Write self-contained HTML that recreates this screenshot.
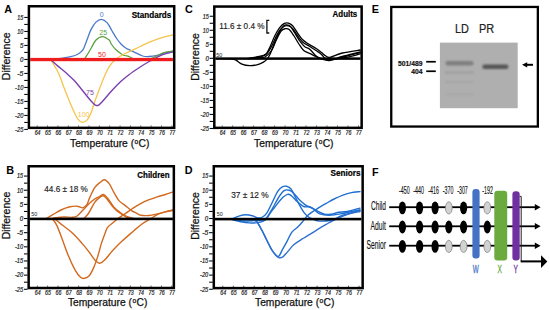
<!DOCTYPE html><html><head><meta charset="utf-8"><style>html,body{margin:0;padding:0;background:#fff;}svg{display:block;}</style></head><body>
<svg width="550" height="310" viewBox="0 0 550 310" font-family='"Liberation Sans", sans-serif'>
<rect width="550" height="310" fill="#fff"/>
<path d="M50.6,59.2 C52.4,59.1 57.7,58.7 61.1,58.3 C64.5,57.9 68.1,57.2 70.8,56.6 C73.5,56.0 75.5,55.3 77.3,54.5 C79.0,53.7 80.2,52.7 81.3,51.6 C82.4,50.5 82.8,50.3 83.9,47.9 C85.0,45.5 86.7,40.5 87.9,37.4 C89.1,34.3 89.8,31.9 91.1,29.4 C92.4,26.8 94.2,23.8 96.0,22.1 C97.8,20.4 99.7,19.3 101.6,19.4 C103.5,19.5 105.5,21.0 107.3,22.9 C109.0,24.8 110.5,28.3 112.1,31.0 C113.7,33.7 115.5,36.8 117.0,39.0 C118.5,41.2 119.7,42.6 121.0,44.0 C122.3,45.4 123.7,46.6 125.0,47.6 C126.3,48.6 127.4,48.9 129.0,49.7 C130.6,50.5 132.4,51.4 134.7,52.4 C137.0,53.4 140.3,55.3 142.7,56.0 C145.1,56.7 146.8,56.6 149.2,56.5 C151.6,56.4 154.6,55.9 157.3,55.3 C160.0,54.7 162.8,53.4 165.3,52.7 C167.9,52.0 171.4,51.4 172.6,51.1" fill="none" stroke="#4a78c8" stroke-width="1.30" stroke-linecap="round" stroke-linejoin="round"/>
<path d="M84.6,59.0 C85.2,58.1 86.8,55.4 88.0,53.5 C89.2,51.6 90.2,49.8 91.5,47.5 C92.8,45.2 94.2,41.8 96.0,40.0 C97.8,38.2 100.2,36.6 102.4,36.6 C104.6,36.6 107.4,38.6 108.9,39.8 C110.4,41.0 110.2,42.4 111.3,44.0 C112.4,45.6 113.8,47.5 115.5,49.2 C117.2,50.9 120.2,53.2 121.8,54.2 C123.4,55.2 123.8,55.1 125.0,55.5 C126.2,55.9 127.7,56.1 129.0,56.6 C130.3,57.1 132.3,58.4 133.0,58.8" fill="none" stroke="#5ca040" stroke-width="1.30" stroke-linecap="round" stroke-linejoin="round"/>
<path d="M150.0,59.0 C150.5,58.8 151.2,58.6 153.0,57.8 C154.8,57.0 158.3,54.9 160.5,54.0 C162.7,53.1 164.0,52.7 166.0,52.2 C168.0,51.7 171.5,51.3 172.6,51.1" fill="none" stroke="#5ca040" stroke-width="1.30" stroke-linecap="round" stroke-linejoin="round"/>
<path d="M50.6,59.6 C51.2,60.5 52.8,62.9 54.2,65.3 C55.6,67.7 57.5,70.8 59.0,74.2 C60.5,77.6 61.7,81.5 63.2,85.5 C64.7,89.5 66.5,94.0 68.1,97.9 C69.7,101.9 71.3,105.7 72.9,109.2 C74.5,112.7 76.1,116.7 77.7,118.9 C79.3,121.1 81.0,122.3 82.6,122.4 C84.2,122.5 85.9,121.5 87.4,119.7 C88.9,117.9 90.2,115.0 91.5,111.6 C92.8,108.2 94.1,103.4 95.5,99.5 C96.9,95.6 98.2,92.3 99.7,88.3 C101.2,84.3 103.1,79.2 104.8,75.5 C106.5,71.8 107.8,68.5 109.7,65.8 C111.6,63.0 113.7,61.0 116.1,59.0 C118.5,57.0 121.1,55.6 124.2,54.0 C127.3,52.4 131.3,50.8 134.7,49.2 C138.1,47.6 141.2,45.9 144.4,44.4 C147.6,42.9 150.8,41.5 154.0,40.3 C157.2,39.1 160.6,38.0 163.7,37.1 C166.8,36.2 171.1,35.4 172.6,35.0" fill="none" stroke="#f5c44c" stroke-width="1.30" stroke-linecap="round" stroke-linejoin="round"/>
<path d="M50.6,59.6 C51.8,60.7 55.3,63.9 57.9,66.1 C60.5,68.3 63.3,70.4 66.0,72.8 C68.7,75.2 71.3,77.4 74.0,80.3 C76.7,83.2 79.7,87.0 82.1,90.0 C84.5,93.0 86.8,95.9 88.5,98.0 C90.2,100.1 91.3,101.3 92.5,102.5 C93.7,103.7 94.8,104.9 95.8,105.3 C96.8,105.7 97.4,105.9 98.7,105.1 C100.0,104.3 101.4,102.6 103.5,100.3 C105.6,98.0 108.6,94.2 111.5,91.0 C114.4,87.8 118.1,84.0 121.0,81.3 C123.9,78.6 126.0,76.9 129.0,74.7 C131.9,72.5 135.2,70.3 138.7,68.0 C142.2,65.7 146.1,63.2 150.0,61.0 C153.9,58.8 158.3,56.3 162.1,54.8 C165.9,53.3 170.8,52.5 172.6,52.1" fill="none" stroke="#7b3fb0" stroke-width="1.40" stroke-linecap="round" stroke-linejoin="round"/>
<rect x="30.2" y="57.9" width="142.7" height="3.3" fill="#ee1c1c"/>
<text x="101.8" y="16.8" font-size="7.00" font-weight="normal" text-anchor="middle" fill="#4a78c8" >0</text>
<text x="103.2" y="35.0" font-size="7.00" font-weight="normal" text-anchor="middle" fill="#5ca040" >25</text>
<text x="102.0" y="57.4" font-size="7.00" font-weight="normal" text-anchor="middle" fill="#ee1c1c" >50</text>
<text x="89.9" y="94.5" font-size="7.00" font-weight="normal" text-anchor="middle" fill="#7b3fb0" >75</text>
<text x="83.6" y="117.2" font-size="7.00" font-weight="normal" text-anchor="middle" fill="#f5c44c" >100</text>
<rect x="28.90" y="6.25" width="145.30" height="121.60" fill="none" stroke="#000" stroke-width="2.50"/>
<rect x="24.25" y="128.90" width="3.6" height="1.05" fill="#000"/>
<text x="23.3" y="131.7" font-size="6.40" font-weight="normal" text-anchor="end" fill="#222" textLength="8.2" lengthAdjust="spacingAndGlyphs" font-style="italic" stroke="#222" stroke-width="0.2">-25</text>
<rect x="24.25" y="121.90" width="3.6" height="1.05" fill="#000"/>
<rect x="24.25" y="114.90" width="3.6" height="1.05" fill="#000"/>
<text x="23.3" y="117.7" font-size="6.40" font-weight="normal" text-anchor="end" fill="#222" textLength="8.2" lengthAdjust="spacingAndGlyphs" font-style="italic" stroke="#222" stroke-width="0.2">-20</text>
<rect x="24.25" y="107.90" width="3.6" height="1.05" fill="#000"/>
<rect x="24.25" y="100.90" width="3.6" height="1.05" fill="#000"/>
<text x="23.3" y="103.7" font-size="6.40" font-weight="normal" text-anchor="end" fill="#222" textLength="8.2" lengthAdjust="spacingAndGlyphs" font-style="italic" stroke="#222" stroke-width="0.2">-15</text>
<rect x="24.25" y="93.90" width="3.6" height="1.05" fill="#000"/>
<rect x="24.25" y="86.90" width="3.6" height="1.05" fill="#000"/>
<text x="23.3" y="89.7" font-size="6.40" font-weight="normal" text-anchor="end" fill="#222" textLength="8.2" lengthAdjust="spacingAndGlyphs" font-style="italic" stroke="#222" stroke-width="0.2">-10</text>
<rect x="24.25" y="79.90" width="3.6" height="1.05" fill="#000"/>
<rect x="24.25" y="72.90" width="3.6" height="1.05" fill="#000"/>
<text x="23.3" y="75.7" font-size="6.40" font-weight="normal" text-anchor="end" fill="#222" textLength="6.0" lengthAdjust="spacingAndGlyphs" font-style="italic" stroke="#222" stroke-width="0.2">-5</text>
<rect x="24.25" y="65.90" width="3.6" height="1.05" fill="#000"/>
<rect x="24.25" y="58.90" width="3.6" height="1.05" fill="#000"/>
<text x="23.3" y="61.7" font-size="6.40" font-weight="normal" text-anchor="end" fill="#222" textLength="3.4" lengthAdjust="spacingAndGlyphs" font-style="italic" stroke="#222" stroke-width="0.2">0</text>
<rect x="24.25" y="51.90" width="3.6" height="1.05" fill="#000"/>
<rect x="24.25" y="44.90" width="3.6" height="1.05" fill="#000"/>
<text x="23.3" y="47.7" font-size="6.40" font-weight="normal" text-anchor="end" fill="#222" textLength="3.4" lengthAdjust="spacingAndGlyphs" font-style="italic" stroke="#222" stroke-width="0.2">5</text>
<rect x="24.25" y="37.90" width="3.6" height="1.05" fill="#000"/>
<rect x="24.25" y="30.90" width="3.6" height="1.05" fill="#000"/>
<text x="23.3" y="33.7" font-size="6.40" font-weight="normal" text-anchor="end" fill="#222" textLength="6.0" lengthAdjust="spacingAndGlyphs" font-style="italic" stroke="#222" stroke-width="0.2">10</text>
<rect x="24.25" y="23.90" width="3.6" height="1.05" fill="#000"/>
<rect x="24.25" y="16.90" width="3.6" height="1.05" fill="#000"/>
<text x="23.3" y="19.7" font-size="6.40" font-weight="normal" text-anchor="end" fill="#222" textLength="6.0" lengthAdjust="spacingAndGlyphs" font-style="italic" stroke="#222" stroke-width="0.2">15</text>
<rect x="36.75" y="125.50" width="0.9" height="1.2" fill="#333"/>
<text x="37.6" y="134.8" font-size="6.40" font-weight="normal" text-anchor="middle" fill="#222" textLength="5.8" lengthAdjust="spacingAndGlyphs" font-style="italic" stroke="#222" stroke-width="0.2">64</text>
<rect x="47.11" y="125.50" width="0.9" height="1.2" fill="#333"/>
<text x="48.0" y="134.8" font-size="6.40" font-weight="normal" text-anchor="middle" fill="#222" textLength="5.8" lengthAdjust="spacingAndGlyphs" font-style="italic" stroke="#222" stroke-width="0.2">65</text>
<rect x="57.47" y="125.50" width="0.9" height="1.2" fill="#333"/>
<text x="58.3" y="134.8" font-size="6.40" font-weight="normal" text-anchor="middle" fill="#222" textLength="5.8" lengthAdjust="spacingAndGlyphs" font-style="italic" stroke="#222" stroke-width="0.2">66</text>
<rect x="67.83" y="125.50" width="0.9" height="1.2" fill="#333"/>
<text x="68.7" y="134.8" font-size="6.40" font-weight="normal" text-anchor="middle" fill="#222" textLength="5.8" lengthAdjust="spacingAndGlyphs" font-style="italic" stroke="#222" stroke-width="0.2">67</text>
<rect x="78.19" y="125.50" width="0.9" height="1.2" fill="#333"/>
<text x="79.0" y="134.8" font-size="6.40" font-weight="normal" text-anchor="middle" fill="#222" textLength="5.8" lengthAdjust="spacingAndGlyphs" font-style="italic" stroke="#222" stroke-width="0.2">68</text>
<rect x="88.55" y="125.50" width="0.9" height="1.2" fill="#333"/>
<text x="89.4" y="134.8" font-size="6.40" font-weight="normal" text-anchor="middle" fill="#222" textLength="5.8" lengthAdjust="spacingAndGlyphs" font-style="italic" stroke="#222" stroke-width="0.2">69</text>
<rect x="98.91" y="125.50" width="0.9" height="1.2" fill="#333"/>
<text x="99.8" y="134.8" font-size="6.40" font-weight="normal" text-anchor="middle" fill="#222" textLength="5.8" lengthAdjust="spacingAndGlyphs" font-style="italic" stroke="#222" stroke-width="0.2">70</text>
<rect x="109.27" y="125.50" width="0.9" height="1.2" fill="#333"/>
<text x="110.1" y="134.8" font-size="6.40" font-weight="normal" text-anchor="middle" fill="#222" textLength="5.8" lengthAdjust="spacingAndGlyphs" font-style="italic" stroke="#222" stroke-width="0.2">71</text>
<rect x="119.63" y="125.50" width="0.9" height="1.2" fill="#333"/>
<text x="120.5" y="134.8" font-size="6.40" font-weight="normal" text-anchor="middle" fill="#222" textLength="5.8" lengthAdjust="spacingAndGlyphs" font-style="italic" stroke="#222" stroke-width="0.2">72</text>
<rect x="129.99" y="125.50" width="0.9" height="1.2" fill="#333"/>
<text x="130.8" y="134.8" font-size="6.40" font-weight="normal" text-anchor="middle" fill="#222" textLength="5.8" lengthAdjust="spacingAndGlyphs" font-style="italic" stroke="#222" stroke-width="0.2">73</text>
<rect x="140.35" y="125.50" width="0.9" height="1.2" fill="#333"/>
<text x="141.2" y="134.8" font-size="6.40" font-weight="normal" text-anchor="middle" fill="#222" textLength="5.8" lengthAdjust="spacingAndGlyphs" font-style="italic" stroke="#222" stroke-width="0.2">74</text>
<rect x="150.71" y="125.50" width="0.9" height="1.2" fill="#333"/>
<text x="151.6" y="134.8" font-size="6.40" font-weight="normal" text-anchor="middle" fill="#222" textLength="5.8" lengthAdjust="spacingAndGlyphs" font-style="italic" stroke="#222" stroke-width="0.2">75</text>
<rect x="161.07" y="125.50" width="0.9" height="1.2" fill="#333"/>
<text x="161.9" y="134.8" font-size="6.40" font-weight="normal" text-anchor="middle" fill="#222" textLength="5.8" lengthAdjust="spacingAndGlyphs" font-style="italic" stroke="#222" stroke-width="0.2">76</text>
<rect x="171.43" y="125.50" width="0.9" height="1.2" fill="#333"/>
<text x="172.3" y="134.8" font-size="6.40" font-weight="normal" text-anchor="middle" fill="#222" textLength="5.8" lengthAdjust="spacingAndGlyphs" font-style="italic" stroke="#222" stroke-width="0.2">77</text>
<text x="131.7" y="17.8" font-size="8.50" font-weight="bold" text-anchor="start" fill="#000" textLength="39.6" lengthAdjust="spacingAndGlyphs" stroke="#000" stroke-width="0.2">Standards</text>
<text x="4.3" y="12.7" font-size="10.80" font-weight="bold" text-anchor="start" fill="#000" >A</text>
<text transform="translate(10.4,56.3) rotate(-90)" x="0" y="0" font-size="10.5" text-anchor="middle" fill="#111" stroke="#111" stroke-width="0.25">Difference</text>
<text x="70.0" y="146.5" font-size="10.3" fill="#111" stroke="#111" stroke-width="0.25">Temperature (<tspan font-size="6.6" dx="0.5" dy="-2.9">o</tspan><tspan dx="0.3" dy="2.9">C)</tspan></text>
<path d="M222.0,58.6 C223.6,58.6 229.4,58.5 231.8,58.8 C234.2,59.1 234.6,59.5 236.3,60.4 C238.0,61.3 239.7,63.2 241.9,64.1 C244.2,65.0 247.2,65.6 249.8,65.7 C252.4,65.8 255.4,65.2 257.7,64.6 C260.0,64.0 261.9,63.0 263.4,62.1 C264.9,61.2 265.7,60.6 266.8,59.3 C267.9,58.0 269.2,56.0 270.1,54.2 C271.0,52.4 271.6,50.6 272.4,48.5 C273.2,46.4 273.8,44.5 275.0,41.8 C276.2,39.0 278.1,34.6 279.5,32.0 C280.9,29.4 282.3,27.2 283.5,26.0 C284.7,24.8 285.6,24.7 286.8,24.8 C288.0,24.9 289.2,25.2 290.5,26.5 C291.8,27.8 293.0,30.2 294.5,32.5 C296.0,34.8 297.8,38.2 299.5,40.5 C301.2,42.8 302.8,45.0 304.5,46.5 C306.2,48.0 308.2,47.9 310.0,49.4 C311.8,50.9 313.7,53.8 315.2,55.2 C316.7,56.7 317.2,57.3 319.0,58.1 C320.8,58.9 323.3,59.8 326.0,60.0 C328.7,60.2 331.8,59.8 335.0,59.2 C338.2,58.6 340.8,57.6 345.0,56.5 C349.2,55.4 357.8,53.2 360.3,52.5" fill="none" stroke="#000" stroke-width="1.30" stroke-linecap="round" stroke-linejoin="round"/>
<path d="M247.6,58.6 C249.1,58.3 254.0,57.5 256.6,57.0 C259.2,56.5 261.7,55.9 263.4,55.3 C265.1,54.6 265.7,54.5 266.8,53.1 C267.9,51.7 268.7,49.9 270.0,47.0 C271.3,44.1 273.1,39.2 274.7,36.0 C276.3,32.8 277.9,30.0 279.5,27.9 C281.1,25.8 282.9,24.2 284.4,23.4 C285.9,22.6 287.1,22.8 288.4,23.1 C289.7,23.5 290.9,23.9 292.4,25.5 C293.9,27.1 295.7,30.4 297.3,32.7 C298.9,35.0 300.2,37.3 302.1,39.2 C304.0,41.1 306.1,42.4 308.5,44.0 C310.9,45.6 314.3,47.3 316.5,48.7 C318.7,50.1 320.1,51.4 321.6,52.6 C323.1,53.8 324.1,55.0 325.5,55.8 C326.9,56.6 327.2,57.8 330.0,57.3 C332.8,56.8 337.2,54.2 342.3,53.0 C347.4,51.8 357.3,50.5 360.3,50.0" fill="none" stroke="#000" stroke-width="1.30" stroke-linecap="round" stroke-linejoin="round"/>
<path d="M248.0,58.6 C249.5,58.4 254.4,57.9 257.0,57.5 C259.6,57.1 261.7,56.7 263.4,56.0 C265.1,55.3 265.7,54.9 267.0,53.5 C268.3,52.1 269.6,50.1 271.0,47.5 C272.4,44.9 274.0,40.9 275.5,38.0 C277.0,35.1 278.4,32.0 280.0,30.0 C281.6,28.0 283.3,26.7 284.8,26.0 C286.3,25.3 287.4,25.5 288.8,26.0 C290.2,26.5 291.6,27.4 293.0,29.0 C294.4,30.6 295.9,33.3 297.5,35.5 C299.1,37.7 300.6,40.2 302.5,42.0 C304.4,43.8 306.8,44.6 309.0,46.0 C311.2,47.4 314.0,49.2 316.0,50.5 C318.0,51.8 319.2,52.4 321.0,54.0 C322.8,55.6 325.0,59.2 326.8,60.2 C328.6,61.2 329.4,60.5 332.0,59.9 C334.6,59.3 337.6,57.8 342.3,56.5 C347.0,55.2 357.3,52.7 360.3,51.9" fill="none" stroke="#000" stroke-width="1.30" stroke-linecap="round" stroke-linejoin="round"/>
<path d="M250.0,58.6 C251.3,58.5 255.5,58.1 258.0,57.8 C260.5,57.5 262.8,58.2 265.0,57.0 C267.2,55.8 269.6,53.3 271.5,50.5 C273.4,47.7 274.7,43.2 276.3,40.0 C277.9,36.8 279.6,33.0 281.1,31.1 C282.6,29.2 283.9,29.0 285.2,28.7 C286.5,28.4 287.7,28.3 289.2,29.5 C290.7,30.7 292.4,33.6 294.0,36.0 C295.6,38.4 297.3,41.6 298.9,44.0 C300.5,46.4 301.8,48.9 303.7,50.5 C305.6,52.1 308.3,52.8 310.2,53.7 C312.1,54.6 313.4,55.4 315.0,56.1 C316.6,56.8 318.0,57.4 320.0,58.0 C322.0,58.6 322.9,59.5 327.0,59.5 C331.1,59.5 339.2,58.6 344.8,57.7 C350.4,56.8 357.7,54.5 360.3,53.9" fill="none" stroke="#000" stroke-width="1.30" stroke-linecap="round" stroke-linejoin="round"/>
<rect x="215.3" y="57.35" width="145.2" height="2.5" fill="#000"/>
<rect x="214.30" y="6.55" width="147.35" height="121.30" fill="none" stroke="#000" stroke-width="2.50"/>
<rect x="209.65" y="127.93" width="3.6" height="1.05" fill="#000"/>
<text x="208.8" y="130.7" font-size="6.40" font-weight="normal" text-anchor="end" fill="#222" textLength="8.2" lengthAdjust="spacingAndGlyphs" font-style="italic" stroke="#222" stroke-width="0.2">-25</text>
<rect x="209.65" y="120.91" width="3.6" height="1.05" fill="#000"/>
<rect x="209.65" y="113.90" width="3.6" height="1.05" fill="#000"/>
<text x="208.8" y="116.7" font-size="6.40" font-weight="normal" text-anchor="end" fill="#222" textLength="8.2" lengthAdjust="spacingAndGlyphs" font-style="italic" stroke="#222" stroke-width="0.2">-20</text>
<rect x="209.65" y="106.89" width="3.6" height="1.05" fill="#000"/>
<rect x="209.65" y="99.88" width="3.6" height="1.05" fill="#000"/>
<text x="208.8" y="102.7" font-size="6.40" font-weight="normal" text-anchor="end" fill="#222" textLength="8.2" lengthAdjust="spacingAndGlyphs" font-style="italic" stroke="#222" stroke-width="0.2">-15</text>
<rect x="209.65" y="92.86" width="3.6" height="1.05" fill="#000"/>
<rect x="209.65" y="85.85" width="3.6" height="1.05" fill="#000"/>
<text x="208.8" y="88.6" font-size="6.40" font-weight="normal" text-anchor="end" fill="#222" textLength="8.2" lengthAdjust="spacingAndGlyphs" font-style="italic" stroke="#222" stroke-width="0.2">-10</text>
<rect x="209.65" y="78.84" width="3.6" height="1.05" fill="#000"/>
<rect x="209.65" y="71.83" width="3.6" height="1.05" fill="#000"/>
<text x="208.8" y="74.6" font-size="6.40" font-weight="normal" text-anchor="end" fill="#222" textLength="6.0" lengthAdjust="spacingAndGlyphs" font-style="italic" stroke="#222" stroke-width="0.2">-5</text>
<rect x="209.65" y="64.81" width="3.6" height="1.05" fill="#000"/>
<rect x="209.65" y="57.80" width="3.6" height="1.05" fill="#000"/>
<text x="208.8" y="60.6" font-size="6.40" font-weight="normal" text-anchor="end" fill="#222" textLength="3.4" lengthAdjust="spacingAndGlyphs" font-style="italic" stroke="#222" stroke-width="0.2">0</text>
<rect x="209.65" y="50.79" width="3.6" height="1.05" fill="#000"/>
<rect x="209.65" y="43.77" width="3.6" height="1.05" fill="#000"/>
<text x="208.8" y="46.6" font-size="6.40" font-weight="normal" text-anchor="end" fill="#222" textLength="3.4" lengthAdjust="spacingAndGlyphs" font-style="italic" stroke="#222" stroke-width="0.2">5</text>
<rect x="209.65" y="36.76" width="3.6" height="1.05" fill="#000"/>
<rect x="209.65" y="29.75" width="3.6" height="1.05" fill="#000"/>
<text x="208.8" y="32.5" font-size="6.40" font-weight="normal" text-anchor="end" fill="#222" textLength="6.0" lengthAdjust="spacingAndGlyphs" font-style="italic" stroke="#222" stroke-width="0.2">10</text>
<rect x="209.65" y="22.74" width="3.6" height="1.05" fill="#000"/>
<rect x="209.65" y="15.72" width="3.6" height="1.05" fill="#000"/>
<text x="208.8" y="18.5" font-size="6.40" font-weight="normal" text-anchor="end" fill="#222" textLength="6.0" lengthAdjust="spacingAndGlyphs" font-style="italic" stroke="#222" stroke-width="0.2">15</text>
<rect x="221.75" y="125.50" width="0.9" height="1.2" fill="#333"/>
<text x="222.6" y="134.8" font-size="6.40" font-weight="normal" text-anchor="middle" fill="#222" textLength="5.8" lengthAdjust="spacingAndGlyphs" font-style="italic" stroke="#222" stroke-width="0.2">64</text>
<rect x="232.23" y="125.50" width="0.9" height="1.2" fill="#333"/>
<text x="233.1" y="134.8" font-size="6.40" font-weight="normal" text-anchor="middle" fill="#222" textLength="5.8" lengthAdjust="spacingAndGlyphs" font-style="italic" stroke="#222" stroke-width="0.2">65</text>
<rect x="242.71" y="125.50" width="0.9" height="1.2" fill="#333"/>
<text x="243.6" y="134.8" font-size="6.40" font-weight="normal" text-anchor="middle" fill="#222" textLength="5.8" lengthAdjust="spacingAndGlyphs" font-style="italic" stroke="#222" stroke-width="0.2">66</text>
<rect x="253.19" y="125.50" width="0.9" height="1.2" fill="#333"/>
<text x="254.0" y="134.8" font-size="6.40" font-weight="normal" text-anchor="middle" fill="#222" textLength="5.8" lengthAdjust="spacingAndGlyphs" font-style="italic" stroke="#222" stroke-width="0.2">67</text>
<rect x="263.67" y="125.50" width="0.9" height="1.2" fill="#333"/>
<text x="264.5" y="134.8" font-size="6.40" font-weight="normal" text-anchor="middle" fill="#222" textLength="5.8" lengthAdjust="spacingAndGlyphs" font-style="italic" stroke="#222" stroke-width="0.2">68</text>
<rect x="274.15" y="125.50" width="0.9" height="1.2" fill="#333"/>
<text x="275.0" y="134.8" font-size="6.40" font-weight="normal" text-anchor="middle" fill="#222" textLength="5.8" lengthAdjust="spacingAndGlyphs" font-style="italic" stroke="#222" stroke-width="0.2">69</text>
<rect x="284.63" y="125.50" width="0.9" height="1.2" fill="#333"/>
<text x="285.5" y="134.8" font-size="6.40" font-weight="normal" text-anchor="middle" fill="#222" textLength="5.8" lengthAdjust="spacingAndGlyphs" font-style="italic" stroke="#222" stroke-width="0.2">70</text>
<rect x="295.11" y="125.50" width="0.9" height="1.2" fill="#333"/>
<text x="296.0" y="134.8" font-size="6.40" font-weight="normal" text-anchor="middle" fill="#222" textLength="5.8" lengthAdjust="spacingAndGlyphs" font-style="italic" stroke="#222" stroke-width="0.2">71</text>
<rect x="305.59" y="125.50" width="0.9" height="1.2" fill="#333"/>
<text x="306.4" y="134.8" font-size="6.40" font-weight="normal" text-anchor="middle" fill="#222" textLength="5.8" lengthAdjust="spacingAndGlyphs" font-style="italic" stroke="#222" stroke-width="0.2">72</text>
<rect x="316.07" y="125.50" width="0.9" height="1.2" fill="#333"/>
<text x="316.9" y="134.8" font-size="6.40" font-weight="normal" text-anchor="middle" fill="#222" textLength="5.8" lengthAdjust="spacingAndGlyphs" font-style="italic" stroke="#222" stroke-width="0.2">73</text>
<rect x="326.55" y="125.50" width="0.9" height="1.2" fill="#333"/>
<text x="327.4" y="134.8" font-size="6.40" font-weight="normal" text-anchor="middle" fill="#222" textLength="5.8" lengthAdjust="spacingAndGlyphs" font-style="italic" stroke="#222" stroke-width="0.2">74</text>
<rect x="337.03" y="125.50" width="0.9" height="1.2" fill="#333"/>
<text x="337.9" y="134.8" font-size="6.40" font-weight="normal" text-anchor="middle" fill="#222" textLength="5.8" lengthAdjust="spacingAndGlyphs" font-style="italic" stroke="#222" stroke-width="0.2">75</text>
<rect x="347.51" y="125.50" width="0.9" height="1.2" fill="#333"/>
<text x="348.4" y="134.8" font-size="6.40" font-weight="normal" text-anchor="middle" fill="#222" textLength="5.8" lengthAdjust="spacingAndGlyphs" font-style="italic" stroke="#222" stroke-width="0.2">76</text>
<rect x="357.99" y="125.50" width="0.9" height="1.2" fill="#333"/>
<text x="358.8" y="134.8" font-size="6.40" font-weight="normal" text-anchor="middle" fill="#222" textLength="5.8" lengthAdjust="spacingAndGlyphs" font-style="italic" stroke="#222" stroke-width="0.2">77</text>
<text x="332.6" y="16.5" font-size="8.40" font-weight="bold" text-anchor="start" fill="#000" textLength="24.6" lengthAdjust="spacingAndGlyphs" stroke="#000" stroke-width="0.2">Adults</text>
<text x="184.9" y="12.9" font-size="10.80" font-weight="bold" text-anchor="start" fill="#000" >C</text>
<text x="219.2" y="28.5" font-size="8.60" font-weight="normal" text-anchor="start" fill="#222" textLength="45.4" lengthAdjust="spacingAndGlyphs" stroke="#222" stroke-width="0.15">11.6 ± 0.4 %</text>
<path d="M269.3,20.3 H266.9 V33.0 H269.3" fill="none" stroke="#111" stroke-width="1.3"/>
<text x="216.2" y="56.9" font-size="6.00" font-weight="normal" text-anchor="start" fill="#222" textLength="6.0" lengthAdjust="spacingAndGlyphs" >50</text>
<text transform="translate(198.8,57.0) rotate(-90)" x="0" y="0" font-size="10.5" text-anchor="middle" fill="#111" stroke="#111" stroke-width="0.25">Difference</text>
<text x="254.1" y="146.5" font-size="10.3" fill="#111" stroke="#111" stroke-width="0.25">Temperature (<tspan font-size="6.6" dx="0.5" dy="-2.9">o</tspan><tspan dx="0.3" dy="2.9">C)</tspan></text>
<path d="M45.6,218.9 C46.8,218.2 50.3,216.1 52.9,214.6 C55.5,213.1 58.3,211.3 61.0,210.0 C63.7,208.7 66.3,207.6 69.0,207.0 C71.7,206.4 74.8,206.0 77.1,206.2 C79.4,206.3 81.1,208.2 82.7,207.9 C84.3,207.7 85.6,206.4 86.8,204.7 C88.0,202.9 88.5,200.2 89.8,197.4 C91.1,194.6 93.1,190.1 94.7,187.7 C96.3,185.3 97.9,184.2 99.5,182.9 C101.1,181.6 102.8,179.6 104.4,179.7 C106.0,179.8 107.6,181.5 109.2,183.7 C110.8,185.8 112.4,189.8 114.0,192.6 C115.6,195.4 117.0,198.4 118.9,200.6 C120.8,202.8 123.2,203.9 125.3,205.6 C127.4,207.3 129.7,209.3 131.5,210.6 C133.3,211.8 134.7,212.3 136.3,213.1 C137.9,213.9 138.9,214.9 141.1,215.3 C143.2,215.7 146.5,215.7 149.2,215.5 C151.9,215.3 154.6,214.5 157.3,213.9 C160.0,213.3 162.8,212.6 165.3,211.9 C167.9,211.2 171.4,210.2 172.6,209.8" fill="none" stroke="#d2691e" stroke-width="1.40" stroke-linecap="round" stroke-linejoin="round"/>
<path d="M51.3,218.9 C52.1,218.7 54.0,218.1 56.1,217.8 C58.2,217.5 61.5,217.1 64.2,217.0 C66.9,216.9 70.2,217.5 72.3,217.3 C74.4,217.1 75.2,217.3 77.1,216.0 C79.0,214.7 81.4,211.7 83.5,209.5 C85.6,207.3 87.9,204.8 89.8,203.1 C91.7,201.3 93.1,200.1 94.7,199.0 C96.3,197.9 98.0,197.3 99.5,196.6 C101.0,195.8 102.2,194.2 103.5,194.5 C104.8,194.8 105.8,196.1 107.6,198.2 C109.3,200.3 111.8,204.7 114.0,207.1 C116.2,209.5 118.3,211.0 120.5,212.7 C122.7,214.4 124.9,216.4 127.0,217.4 C129.1,218.4 132.0,218.7 133.0,218.9" fill="none" stroke="#d2691e" stroke-width="1.40" stroke-linecap="round" stroke-linejoin="round"/>
<path d="M83.5,218.9 C84.3,218.0 86.5,216.3 88.4,213.5 C90.3,210.7 92.9,204.9 94.7,202.3 C96.5,199.7 98.0,198.8 99.5,197.7 C101.0,196.6 102.2,195.5 103.5,195.8 C104.8,196.2 106.1,198.1 107.6,199.8 C109.1,201.6 110.8,204.4 112.4,206.3 C114.0,208.2 115.2,209.5 117.3,211.1 C119.4,212.7 122.6,214.8 125.3,216.0 C128.0,217.2 131.0,217.9 133.4,218.4 C135.8,218.9 138.9,218.8 140.0,218.9" fill="none" stroke="#d2691e" stroke-width="1.40" stroke-linecap="round" stroke-linejoin="round"/>
<path d="M45.6,218.9 C46.7,218.9 50.2,218.1 52.1,219.2 C54.0,220.3 55.1,222.0 56.9,225.6 C58.7,229.2 60.8,235.4 62.7,240.5 C64.6,245.6 66.5,251.1 68.5,256.0 C70.5,260.9 73.0,266.2 75.0,269.8 C77.0,273.4 79.2,276.1 80.8,277.5 C82.4,278.9 83.1,278.6 84.5,278.3 C85.9,278.0 87.7,277.5 89.2,275.7 C90.7,273.9 92.3,270.7 93.7,267.6 C95.1,264.5 96.3,260.9 97.6,256.9 C98.9,252.9 100.2,247.3 101.4,243.4 C102.6,239.5 103.9,236.3 104.9,233.7 C105.9,231.1 106.1,229.4 107.4,227.6 C108.7,225.8 110.9,224.5 112.7,223.0 C114.5,221.5 116.0,220.0 118.0,218.5 C120.0,217.0 122.5,215.6 125.0,213.9 C127.5,212.2 130.4,209.9 133.1,208.2 C135.8,206.4 138.4,204.8 141.1,203.4 C143.8,202.0 146.5,200.8 149.2,199.7 C151.9,198.6 154.6,197.8 157.3,196.9 C160.0,196.0 162.8,195.3 165.3,194.5 C167.9,193.7 171.4,192.5 172.6,192.1" fill="none" stroke="#d2691e" stroke-width="1.40" stroke-linecap="round" stroke-linejoin="round"/>
<path d="M47.0,218.9 C48.2,218.9 51.9,218.1 54.5,219.2 C57.1,220.3 59.6,223.0 62.6,225.3 C65.6,227.6 69.2,230.0 72.4,233.0 C75.7,236.0 79.2,240.1 82.1,243.4 C85.0,246.7 87.5,250.1 89.8,253.0 C92.0,255.9 93.9,259.1 95.6,260.8 C97.3,262.5 98.2,263.4 99.8,263.2 C101.3,263.0 102.8,261.9 104.9,259.8 C107.1,257.7 109.9,253.5 112.7,250.5 C115.5,247.5 118.6,244.4 121.6,241.6 C124.6,238.8 128.3,235.5 130.5,233.6 C132.7,231.7 132.7,231.7 134.7,230.0 C136.7,228.3 140.0,225.4 142.7,223.5 C145.4,221.6 148.4,220.2 150.8,218.7 C153.2,217.2 154.9,215.8 157.3,214.7 C159.7,213.6 162.8,212.6 165.3,211.9 C167.9,211.2 171.4,210.8 172.6,210.6" fill="none" stroke="#d2691e" stroke-width="1.40" stroke-linecap="round" stroke-linejoin="round"/>
<rect x="29.9" y="217.6" width="143" height="2.6" fill="#000"/>
<rect x="28.65" y="166.25" width="145.20" height="121.75" fill="none" stroke="#000" stroke-width="2.50"/>
<rect x="24.00" y="288.75" width="3.6" height="1.05" fill="#000"/>
<text x="23.1" y="291.6" font-size="6.40" font-weight="normal" text-anchor="end" fill="#222" textLength="8.2" lengthAdjust="spacingAndGlyphs" font-style="italic" stroke="#222" stroke-width="0.2">-25</text>
<rect x="24.00" y="281.68" width="3.6" height="1.05" fill="#000"/>
<rect x="24.00" y="274.60" width="3.6" height="1.05" fill="#000"/>
<text x="23.1" y="277.4" font-size="6.40" font-weight="normal" text-anchor="end" fill="#222" textLength="8.2" lengthAdjust="spacingAndGlyphs" font-style="italic" stroke="#222" stroke-width="0.2">-20</text>
<rect x="24.00" y="267.52" width="3.6" height="1.05" fill="#000"/>
<rect x="24.00" y="260.45" width="3.6" height="1.05" fill="#000"/>
<text x="23.1" y="263.2" font-size="6.40" font-weight="normal" text-anchor="end" fill="#222" textLength="8.2" lengthAdjust="spacingAndGlyphs" font-style="italic" stroke="#222" stroke-width="0.2">-15</text>
<rect x="24.00" y="253.38" width="3.6" height="1.05" fill="#000"/>
<rect x="24.00" y="246.30" width="3.6" height="1.05" fill="#000"/>
<text x="23.1" y="249.1" font-size="6.40" font-weight="normal" text-anchor="end" fill="#222" textLength="8.2" lengthAdjust="spacingAndGlyphs" font-style="italic" stroke="#222" stroke-width="0.2">-10</text>
<rect x="24.00" y="239.22" width="3.6" height="1.05" fill="#000"/>
<rect x="24.00" y="232.15" width="3.6" height="1.05" fill="#000"/>
<text x="23.1" y="235.0" font-size="6.40" font-weight="normal" text-anchor="end" fill="#222" textLength="6.0" lengthAdjust="spacingAndGlyphs" font-style="italic" stroke="#222" stroke-width="0.2">-5</text>
<rect x="24.00" y="225.07" width="3.6" height="1.05" fill="#000"/>
<rect x="24.00" y="218.00" width="3.6" height="1.05" fill="#000"/>
<text x="23.1" y="220.8" font-size="6.40" font-weight="normal" text-anchor="end" fill="#222" textLength="3.4" lengthAdjust="spacingAndGlyphs" font-style="italic" stroke="#222" stroke-width="0.2">0</text>
<rect x="24.00" y="210.93" width="3.6" height="1.05" fill="#000"/>
<rect x="24.00" y="203.85" width="3.6" height="1.05" fill="#000"/>
<text x="23.1" y="206.7" font-size="6.40" font-weight="normal" text-anchor="end" fill="#222" textLength="3.4" lengthAdjust="spacingAndGlyphs" font-style="italic" stroke="#222" stroke-width="0.2">5</text>
<rect x="24.00" y="196.78" width="3.6" height="1.05" fill="#000"/>
<rect x="24.00" y="189.70" width="3.6" height="1.05" fill="#000"/>
<text x="23.1" y="192.5" font-size="6.40" font-weight="normal" text-anchor="end" fill="#222" textLength="6.0" lengthAdjust="spacingAndGlyphs" font-style="italic" stroke="#222" stroke-width="0.2">10</text>
<rect x="24.00" y="182.62" width="3.6" height="1.05" fill="#000"/>
<rect x="24.00" y="175.55" width="3.6" height="1.05" fill="#000"/>
<text x="23.1" y="178.4" font-size="6.40" font-weight="normal" text-anchor="end" fill="#222" textLength="6.0" lengthAdjust="spacingAndGlyphs" font-style="italic" stroke="#222" stroke-width="0.2">15</text>
<rect x="36.85" y="285.65" width="0.9" height="1.2" fill="#333"/>
<text x="37.7" y="295.0" font-size="6.40" font-weight="normal" text-anchor="middle" fill="#222" textLength="5.8" lengthAdjust="spacingAndGlyphs" font-style="italic" stroke="#222" stroke-width="0.2">64</text>
<rect x="47.19" y="285.65" width="0.9" height="1.2" fill="#333"/>
<text x="48.0" y="295.0" font-size="6.40" font-weight="normal" text-anchor="middle" fill="#222" textLength="5.8" lengthAdjust="spacingAndGlyphs" font-style="italic" stroke="#222" stroke-width="0.2">65</text>
<rect x="57.53" y="285.65" width="0.9" height="1.2" fill="#333"/>
<text x="58.4" y="295.0" font-size="6.40" font-weight="normal" text-anchor="middle" fill="#222" textLength="5.8" lengthAdjust="spacingAndGlyphs" font-style="italic" stroke="#222" stroke-width="0.2">66</text>
<rect x="67.87" y="285.65" width="0.9" height="1.2" fill="#333"/>
<text x="68.7" y="295.0" font-size="6.40" font-weight="normal" text-anchor="middle" fill="#222" textLength="5.8" lengthAdjust="spacingAndGlyphs" font-style="italic" stroke="#222" stroke-width="0.2">67</text>
<rect x="78.21" y="285.65" width="0.9" height="1.2" fill="#333"/>
<text x="79.1" y="295.0" font-size="6.40" font-weight="normal" text-anchor="middle" fill="#222" textLength="5.8" lengthAdjust="spacingAndGlyphs" font-style="italic" stroke="#222" stroke-width="0.2">68</text>
<rect x="88.55" y="285.65" width="0.9" height="1.2" fill="#333"/>
<text x="89.4" y="295.0" font-size="6.40" font-weight="normal" text-anchor="middle" fill="#222" textLength="5.8" lengthAdjust="spacingAndGlyphs" font-style="italic" stroke="#222" stroke-width="0.2">69</text>
<rect x="98.89" y="285.65" width="0.9" height="1.2" fill="#333"/>
<text x="99.7" y="295.0" font-size="6.40" font-weight="normal" text-anchor="middle" fill="#222" textLength="5.8" lengthAdjust="spacingAndGlyphs" font-style="italic" stroke="#222" stroke-width="0.2">70</text>
<rect x="109.23" y="285.65" width="0.9" height="1.2" fill="#333"/>
<text x="110.1" y="295.0" font-size="6.40" font-weight="normal" text-anchor="middle" fill="#222" textLength="5.8" lengthAdjust="spacingAndGlyphs" font-style="italic" stroke="#222" stroke-width="0.2">71</text>
<rect x="119.57" y="285.65" width="0.9" height="1.2" fill="#333"/>
<text x="120.4" y="295.0" font-size="6.40" font-weight="normal" text-anchor="middle" fill="#222" textLength="5.8" lengthAdjust="spacingAndGlyphs" font-style="italic" stroke="#222" stroke-width="0.2">72</text>
<rect x="129.91" y="285.65" width="0.9" height="1.2" fill="#333"/>
<text x="130.8" y="295.0" font-size="6.40" font-weight="normal" text-anchor="middle" fill="#222" textLength="5.8" lengthAdjust="spacingAndGlyphs" font-style="italic" stroke="#222" stroke-width="0.2">73</text>
<rect x="140.25" y="285.65" width="0.9" height="1.2" fill="#333"/>
<text x="141.1" y="295.0" font-size="6.40" font-weight="normal" text-anchor="middle" fill="#222" textLength="5.8" lengthAdjust="spacingAndGlyphs" font-style="italic" stroke="#222" stroke-width="0.2">74</text>
<rect x="150.59" y="285.65" width="0.9" height="1.2" fill="#333"/>
<text x="151.4" y="295.0" font-size="6.40" font-weight="normal" text-anchor="middle" fill="#222" textLength="5.8" lengthAdjust="spacingAndGlyphs" font-style="italic" stroke="#222" stroke-width="0.2">75</text>
<rect x="160.93" y="285.65" width="0.9" height="1.2" fill="#333"/>
<text x="161.8" y="295.0" font-size="6.40" font-weight="normal" text-anchor="middle" fill="#222" textLength="5.8" lengthAdjust="spacingAndGlyphs" font-style="italic" stroke="#222" stroke-width="0.2">76</text>
<rect x="171.27" y="285.65" width="0.9" height="1.2" fill="#333"/>
<text x="172.1" y="295.0" font-size="6.40" font-weight="normal" text-anchor="middle" fill="#222" textLength="5.8" lengthAdjust="spacingAndGlyphs" font-style="italic" stroke="#222" stroke-width="0.2">77</text>
<text x="137.3" y="177.5" font-size="8.40" font-weight="bold" text-anchor="start" fill="#000" textLength="32.2" lengthAdjust="spacingAndGlyphs" stroke="#000" stroke-width="0.2">Children</text>
<text x="6.2" y="174.3" font-size="10.80" font-weight="bold" text-anchor="start" fill="#000" >B</text>
<text x="44.3" y="191.8" font-size="8.60" font-weight="normal" text-anchor="start" fill="#222" textLength="43.6" lengthAdjust="spacingAndGlyphs" stroke="#222" stroke-width="0.15">44.6 ± 18 %</text>
<text x="31.3" y="215.8" font-size="6.20" font-weight="normal" text-anchor="start" fill="#222" textLength="6.0" lengthAdjust="spacingAndGlyphs" >50</text>
<text transform="translate(10.3,215.5) rotate(-90)" x="0" y="0" font-size="10.5" text-anchor="middle" fill="#111" stroke="#111" stroke-width="0.25">Difference</text>
<text x="67.9" y="305.6" font-size="10.3" fill="#111" stroke="#111" stroke-width="0.25">Temperature (<tspan font-size="6.6" dx="0.5" dy="-2.9">o</tspan><tspan dx="0.3" dy="2.9">C)</tspan></text>
<path d="M231.0,219.3 C232.4,218.7 237.0,216.6 239.5,215.8 C242.0,215.1 243.8,214.8 246.0,214.8 C248.2,214.8 250.4,215.3 252.4,215.8 C254.4,216.3 256.3,217.8 258.0,218.0 C259.7,218.2 261.0,217.8 262.5,217.0 C264.0,216.2 265.4,215.1 266.9,212.9 C268.4,210.7 269.7,207.6 271.5,204.0 C273.3,200.4 276.0,194.0 277.9,191.1 C279.8,188.2 281.2,187.4 282.7,186.6 C284.2,185.8 285.4,186.0 286.8,186.3 C288.2,186.7 289.5,187.1 290.8,188.7 C292.1,190.3 293.5,193.4 294.8,196.0 C296.1,198.6 297.4,201.3 298.9,204.0 C300.4,206.7 302.1,209.9 303.7,212.1 C305.3,214.3 306.9,215.8 308.5,217.0 C310.1,218.2 311.5,218.7 313.4,219.4 C315.3,220.1 316.8,220.9 319.7,221.1 C322.6,221.2 327.2,221.2 331.0,220.3 C334.8,219.4 337.5,217.1 342.3,215.5 C347.1,213.9 357.1,211.4 360.0,210.6" fill="none" stroke="#1f6fd1" stroke-width="1.40" stroke-linecap="round" stroke-linejoin="round"/>
<path d="M232.0,219.5 C233.5,219.9 238.2,221.2 241.1,221.8 C244.0,222.4 246.5,222.8 249.2,222.9 C251.9,223.0 254.9,222.9 257.3,222.6 C259.7,222.3 261.9,222.1 263.7,221.0 C265.5,219.9 266.4,218.3 268.0,216.0 C269.6,213.7 271.2,210.6 273.1,207.3 C275.0,204.0 277.6,198.8 279.5,196.0 C281.4,193.2 282.8,191.2 284.4,190.3 C286.0,189.4 287.7,189.9 289.2,190.3 C290.7,190.7 291.6,191.2 293.2,192.7 C294.8,194.2 296.9,197.2 298.9,199.2 C300.9,201.2 302.9,203.2 305.3,204.8 C307.7,206.4 311.0,207.4 313.4,208.9 C315.8,210.4 317.0,212.9 319.7,213.9 C322.4,214.9 325.9,215.2 329.4,215.2 C332.9,215.2 335.5,214.8 340.6,213.9 C345.7,213.0 356.8,210.5 360.0,209.8" fill="none" stroke="#1f6fd1" stroke-width="1.40" stroke-linecap="round" stroke-linejoin="round"/>
<path d="M234.0,219.5 C235.7,219.8 240.7,220.8 244.0,221.0 C247.3,221.2 251.0,220.7 254.0,220.5 C257.0,220.3 260.0,220.2 262.0,220.0 C264.0,219.8 264.6,220.7 266.0,219.5 C267.4,218.3 268.8,215.0 270.2,213.0 C271.6,211.0 272.9,209.6 274.7,207.3 C276.5,205.0 279.0,201.3 281.1,199.2 C283.2,197.0 285.9,194.9 287.6,194.4 C289.4,193.9 290.0,194.8 291.6,196.0 C293.2,197.2 295.3,199.8 297.3,201.6 C299.3,203.3 301.6,205.6 303.7,206.5 C305.8,207.4 307.9,206.2 310.0,206.9 C312.1,207.6 314.1,209.4 316.5,210.6 C318.9,211.8 322.1,213.6 324.5,214.2 C326.9,214.8 328.6,214.5 331.0,214.2 C333.4,213.9 336.3,212.8 339.0,212.3 C341.7,211.9 343.6,212.2 347.1,211.5 C350.6,210.8 357.9,208.8 360.0,208.2" fill="none" stroke="#1f6fd1" stroke-width="1.40" stroke-linecap="round" stroke-linejoin="round"/>
<path d="M252.0,219.5 C252.8,219.8 255.0,219.8 256.6,221.5 C258.2,223.2 259.9,226.6 261.5,229.5 C263.1,232.4 264.7,236.0 266.3,239.2 C267.9,242.4 269.5,246.2 271.1,248.9 C272.7,251.6 274.7,254.1 276.0,255.3 C277.3,256.5 277.9,256.9 279.0,256.0 C280.1,255.1 281.0,252.2 282.4,249.7 C283.8,247.2 285.7,243.8 287.3,240.8 C288.9,237.8 290.2,234.3 292.1,231.9 C294.0,229.5 296.6,228.2 298.5,226.3 C300.4,224.4 301.8,222.5 303.4,220.6 C305.0,218.7 305.8,217.1 308.2,215.0 C310.6,212.9 315.1,210.1 318.1,208.2 C321.1,206.3 323.4,204.9 326.1,203.4 C328.8,201.9 331.5,200.3 334.2,199.0 C336.9,197.7 339.6,196.3 342.3,195.3 C345.0,194.3 347.4,193.5 350.3,192.9 C353.2,192.3 358.4,191.8 360.0,191.6" fill="none" stroke="#1f6fd1" stroke-width="1.40" stroke-linecap="round" stroke-linejoin="round"/>
<path d="M253.0,219.5 C253.7,219.9 255.5,220.2 257.0,222.0 C258.5,223.8 260.3,227.4 262.0,230.5 C263.7,233.6 265.3,237.2 267.0,240.5 C268.7,243.8 270.4,247.4 272.0,250.0 C273.6,252.6 275.3,254.7 276.5,256.0 C277.7,257.3 278.2,257.5 279.2,257.7 C280.2,257.9 281.0,258.1 282.4,257.2 C283.8,256.3 285.4,254.2 287.3,252.1 C289.2,250.0 291.3,247.0 293.7,244.8 C296.1,242.7 299.1,240.9 301.8,239.2 C304.5,237.5 307.1,236.1 309.8,234.4 C312.5,232.7 315.4,230.9 318.1,229.2 C320.8,227.5 323.4,225.9 326.1,224.4 C328.8,222.9 331.5,221.3 334.2,220.0 C336.9,218.7 339.4,217.5 342.3,216.3 C345.2,215.2 348.9,213.9 351.9,213.1 C354.8,212.3 358.6,211.8 360.0,211.5" fill="none" stroke="#2f6fd0" stroke-width="1.40" stroke-linecap="round" stroke-linejoin="round"/>
<rect x="214.8" y="217.8" width="146.6" height="2.6" fill="#000"/>
<rect x="213.80" y="166.25" width="148.85" height="121.85" fill="none" stroke="#000" stroke-width="2.50"/>
<rect x="209.15" y="288.75" width="3.6" height="1.05" fill="#000"/>
<text x="208.2" y="291.6" font-size="6.40" font-weight="normal" text-anchor="end" fill="#222" textLength="8.2" lengthAdjust="spacingAndGlyphs" font-style="italic" stroke="#222" stroke-width="0.2">-25</text>
<rect x="209.15" y="281.68" width="3.6" height="1.05" fill="#000"/>
<rect x="209.15" y="274.60" width="3.6" height="1.05" fill="#000"/>
<text x="208.2" y="277.4" font-size="6.40" font-weight="normal" text-anchor="end" fill="#222" textLength="8.2" lengthAdjust="spacingAndGlyphs" font-style="italic" stroke="#222" stroke-width="0.2">-20</text>
<rect x="209.15" y="267.52" width="3.6" height="1.05" fill="#000"/>
<rect x="209.15" y="260.45" width="3.6" height="1.05" fill="#000"/>
<text x="208.2" y="263.2" font-size="6.40" font-weight="normal" text-anchor="end" fill="#222" textLength="8.2" lengthAdjust="spacingAndGlyphs" font-style="italic" stroke="#222" stroke-width="0.2">-15</text>
<rect x="209.15" y="253.38" width="3.6" height="1.05" fill="#000"/>
<rect x="209.15" y="246.30" width="3.6" height="1.05" fill="#000"/>
<text x="208.2" y="249.1" font-size="6.40" font-weight="normal" text-anchor="end" fill="#222" textLength="8.2" lengthAdjust="spacingAndGlyphs" font-style="italic" stroke="#222" stroke-width="0.2">-10</text>
<rect x="209.15" y="239.22" width="3.6" height="1.05" fill="#000"/>
<rect x="209.15" y="232.15" width="3.6" height="1.05" fill="#000"/>
<text x="208.2" y="235.0" font-size="6.40" font-weight="normal" text-anchor="end" fill="#222" textLength="6.0" lengthAdjust="spacingAndGlyphs" font-style="italic" stroke="#222" stroke-width="0.2">-5</text>
<rect x="209.15" y="225.07" width="3.6" height="1.05" fill="#000"/>
<rect x="209.15" y="218.00" width="3.6" height="1.05" fill="#000"/>
<text x="208.2" y="220.8" font-size="6.40" font-weight="normal" text-anchor="end" fill="#222" textLength="3.4" lengthAdjust="spacingAndGlyphs" font-style="italic" stroke="#222" stroke-width="0.2">0</text>
<rect x="209.15" y="210.93" width="3.6" height="1.05" fill="#000"/>
<rect x="209.15" y="203.85" width="3.6" height="1.05" fill="#000"/>
<text x="208.2" y="206.7" font-size="6.40" font-weight="normal" text-anchor="end" fill="#222" textLength="3.4" lengthAdjust="spacingAndGlyphs" font-style="italic" stroke="#222" stroke-width="0.2">5</text>
<rect x="209.15" y="196.78" width="3.6" height="1.05" fill="#000"/>
<rect x="209.15" y="189.70" width="3.6" height="1.05" fill="#000"/>
<text x="208.2" y="192.5" font-size="6.40" font-weight="normal" text-anchor="end" fill="#222" textLength="6.0" lengthAdjust="spacingAndGlyphs" font-style="italic" stroke="#222" stroke-width="0.2">10</text>
<rect x="209.15" y="182.62" width="3.6" height="1.05" fill="#000"/>
<rect x="209.15" y="175.55" width="3.6" height="1.05" fill="#000"/>
<text x="208.2" y="178.4" font-size="6.40" font-weight="normal" text-anchor="end" fill="#222" textLength="6.0" lengthAdjust="spacingAndGlyphs" font-style="italic" stroke="#222" stroke-width="0.2">15</text>
<rect x="222.35" y="285.75" width="0.9" height="1.2" fill="#333"/>
<text x="223.2" y="295.1" font-size="6.40" font-weight="normal" text-anchor="middle" fill="#222" textLength="5.8" lengthAdjust="spacingAndGlyphs" font-style="italic" stroke="#222" stroke-width="0.2">64</text>
<rect x="232.83" y="285.75" width="0.9" height="1.2" fill="#333"/>
<text x="233.7" y="295.1" font-size="6.40" font-weight="normal" text-anchor="middle" fill="#222" textLength="5.8" lengthAdjust="spacingAndGlyphs" font-style="italic" stroke="#222" stroke-width="0.2">65</text>
<rect x="243.31" y="285.75" width="0.9" height="1.2" fill="#333"/>
<text x="244.2" y="295.1" font-size="6.40" font-weight="normal" text-anchor="middle" fill="#222" textLength="5.8" lengthAdjust="spacingAndGlyphs" font-style="italic" stroke="#222" stroke-width="0.2">66</text>
<rect x="253.79" y="285.75" width="0.9" height="1.2" fill="#333"/>
<text x="254.6" y="295.1" font-size="6.40" font-weight="normal" text-anchor="middle" fill="#222" textLength="5.8" lengthAdjust="spacingAndGlyphs" font-style="italic" stroke="#222" stroke-width="0.2">67</text>
<rect x="264.27" y="285.75" width="0.9" height="1.2" fill="#333"/>
<text x="265.1" y="295.1" font-size="6.40" font-weight="normal" text-anchor="middle" fill="#222" textLength="5.8" lengthAdjust="spacingAndGlyphs" font-style="italic" stroke="#222" stroke-width="0.2">68</text>
<rect x="274.75" y="285.75" width="0.9" height="1.2" fill="#333"/>
<text x="275.6" y="295.1" font-size="6.40" font-weight="normal" text-anchor="middle" fill="#222" textLength="5.8" lengthAdjust="spacingAndGlyphs" font-style="italic" stroke="#222" stroke-width="0.2">69</text>
<rect x="285.23" y="285.75" width="0.9" height="1.2" fill="#333"/>
<text x="286.1" y="295.1" font-size="6.40" font-weight="normal" text-anchor="middle" fill="#222" textLength="5.8" lengthAdjust="spacingAndGlyphs" font-style="italic" stroke="#222" stroke-width="0.2">70</text>
<rect x="295.71" y="285.75" width="0.9" height="1.2" fill="#333"/>
<text x="296.6" y="295.1" font-size="6.40" font-weight="normal" text-anchor="middle" fill="#222" textLength="5.8" lengthAdjust="spacingAndGlyphs" font-style="italic" stroke="#222" stroke-width="0.2">71</text>
<rect x="306.19" y="285.75" width="0.9" height="1.2" fill="#333"/>
<text x="307.0" y="295.1" font-size="6.40" font-weight="normal" text-anchor="middle" fill="#222" textLength="5.8" lengthAdjust="spacingAndGlyphs" font-style="italic" stroke="#222" stroke-width="0.2">72</text>
<rect x="316.67" y="285.75" width="0.9" height="1.2" fill="#333"/>
<text x="317.5" y="295.1" font-size="6.40" font-weight="normal" text-anchor="middle" fill="#222" textLength="5.8" lengthAdjust="spacingAndGlyphs" font-style="italic" stroke="#222" stroke-width="0.2">73</text>
<rect x="327.15" y="285.75" width="0.9" height="1.2" fill="#333"/>
<text x="328.0" y="295.1" font-size="6.40" font-weight="normal" text-anchor="middle" fill="#222" textLength="5.8" lengthAdjust="spacingAndGlyphs" font-style="italic" stroke="#222" stroke-width="0.2">74</text>
<rect x="337.63" y="285.75" width="0.9" height="1.2" fill="#333"/>
<text x="338.5" y="295.1" font-size="6.40" font-weight="normal" text-anchor="middle" fill="#222" textLength="5.8" lengthAdjust="spacingAndGlyphs" font-style="italic" stroke="#222" stroke-width="0.2">75</text>
<rect x="348.11" y="285.75" width="0.9" height="1.2" fill="#333"/>
<text x="349.0" y="295.1" font-size="6.40" font-weight="normal" text-anchor="middle" fill="#222" textLength="5.8" lengthAdjust="spacingAndGlyphs" font-style="italic" stroke="#222" stroke-width="0.2">76</text>
<rect x="358.59" y="285.75" width="0.9" height="1.2" fill="#333"/>
<text x="359.4" y="295.1" font-size="6.40" font-weight="normal" text-anchor="middle" fill="#222" textLength="5.8" lengthAdjust="spacingAndGlyphs" font-style="italic" stroke="#222" stroke-width="0.2">77</text>
<text x="330.5" y="175.8" font-size="8.40" font-weight="bold" text-anchor="start" fill="#000" textLength="30.0" lengthAdjust="spacingAndGlyphs" stroke="#000" stroke-width="0.2">Seniors</text>
<text x="184.8" y="173.9" font-size="10.80" font-weight="bold" text-anchor="start" fill="#000" >D</text>
<text x="231.2" y="198.0" font-size="8.60" font-weight="normal" text-anchor="start" fill="#222" textLength="37.4" lengthAdjust="spacingAndGlyphs" stroke="#222" stroke-width="0.15">37 ± 12 %</text>
<text x="216.8" y="215.9" font-size="6.20" font-weight="normal" text-anchor="start" fill="#222" textLength="6.0" lengthAdjust="spacingAndGlyphs" >50</text>
<text transform="translate(198.8,216.0) rotate(-90)" x="0" y="0" font-size="10.5" text-anchor="middle" fill="#111" stroke="#111" stroke-width="0.25">Difference</text>
<text x="255.0" y="305.6" font-size="10.3" fill="#111" stroke="#111" stroke-width="0.25">Temperature (<tspan font-size="6.6" dx="0.5" dy="-2.9">o</tspan><tspan dx="0.3" dy="2.9">C)</tspan></text>
<text x="371.7" y="13.0" font-size="10.80" font-weight="bold" text-anchor="start" fill="#000" >E</text>
<rect x="391.25" y="6.95" width="146.6" height="119.6" fill="none" stroke="#000" stroke-width="2.3"/>
<text x="455.0" y="32.9" font-size="12.00" font-weight="normal" text-anchor="start" fill="#222" textLength="13.9" lengthAdjust="spacingAndGlyphs" stroke="#222" stroke-width="0.2">LD</text>
<text x="479.0" y="32.9" font-size="12.00" font-weight="normal" text-anchor="start" fill="#222" textLength="15.2" lengthAdjust="spacingAndGlyphs" stroke="#222" stroke-width="0.2">PR</text>
<rect x="439.9" y="42.6" width="77.8" height="65.6" fill="#afafaf"/>
<defs><filter id="bl" x="-20%" y="-50%" width="140%" height="200%"><feGaussianBlur stdDeviation="0.9"/></filter></defs>
<g filter="url(#bl)">
<rect x="445.5" y="61.0" width="28" height="4.6" rx="2" fill="#7e7e7e"/>
<rect x="445" y="71.4" width="29" height="2.4" fill="#a0a0a0"/>
<rect x="445" y="80.8" width="29" height="2.2" fill="#a6a6a6"/>
<rect x="445" y="93.2" width="29" height="2.2" fill="#a8a8a8"/>
<rect x="482.4" y="64.4" width="26" height="4.6" rx="2" fill="#555"/>
</g>
<text x="422.4" y="65.6" font-size="7.40" font-weight="bold" text-anchor="end" fill="#111" textLength="24.4" lengthAdjust="spacingAndGlyphs" stroke="#111" stroke-width="0.2">501/489</text>
<text x="422.4" y="74.1" font-size="7.40" font-weight="bold" text-anchor="end" fill="#111" textLength="11.2" lengthAdjust="spacingAndGlyphs" stroke="#111" stroke-width="0.2">404</text>
<rect x="426.2" y="60.9" width="9.6" height="1.7" fill="#000"/>
<rect x="426.2" y="70.4" width="9.6" height="1.7" fill="#000"/>
<path d="M533,64.8 H526" stroke="#000" stroke-width="2"/><path d="M522,64.8 L527.2,62.2 L527.2,67.4 Z" fill="#000"/>
<text x="371.9" y="176.3" font-size="10.80" font-weight="bold" text-anchor="start" fill="#000" >F</text>
<rect x="389.2" y="206.3" width="146" height="1.8" fill="#000"/>
<text x="386.0" y="210.4" font-size="13.20" font-weight="normal" text-anchor="end" fill="#111" textLength="15.0" lengthAdjust="spacingAndGlyphs" stroke="#111" stroke-width="0.15">Child</text>
<rect x="389.2" y="225.4" width="146" height="1.8" fill="#000"/>
<text x="386.0" y="229.5" font-size="13.20" font-weight="normal" text-anchor="end" fill="#111" textLength="15.4" lengthAdjust="spacingAndGlyphs" stroke="#111" stroke-width="0.15">Adult</text>
<rect x="389.2" y="244.8" width="146" height="1.8" fill="#000"/>
<text x="386.0" y="248.9" font-size="13.20" font-weight="normal" text-anchor="end" fill="#111" textLength="19.5" lengthAdjust="spacingAndGlyphs" stroke="#111" stroke-width="0.15">Senior</text>
<ellipse cx="402.4" cy="207.9" rx="3.6" ry="6.4" fill="#000"/>
<ellipse cx="419.6" cy="207.9" rx="3.6" ry="6.4" fill="#000"/>
<ellipse cx="435.1" cy="207.9" rx="3.6" ry="6.4" fill="#000"/>
<ellipse cx="448.8" cy="207.9" rx="3.4" ry="6.1" fill="#d2d2d2" stroke="#7a7a7a" stroke-width="0.7"/>
<ellipse cx="463.6" cy="207.9" rx="3.6" ry="6.4" fill="#000"/>
<ellipse cx="487.3" cy="207.9" rx="3.4" ry="6.1" fill="#d2d2d2" stroke="#7a7a7a" stroke-width="0.7"/>
<ellipse cx="402.4" cy="227.0" rx="3.6" ry="6.4" fill="#000"/>
<ellipse cx="419.6" cy="227.0" rx="3.6" ry="6.4" fill="#000"/>
<ellipse cx="435.1" cy="227.0" rx="3.6" ry="6.4" fill="#000"/>
<ellipse cx="448.8" cy="227.0" rx="3.6" ry="6.4" fill="#000"/>
<ellipse cx="463.6" cy="227.0" rx="3.6" ry="6.4" fill="#000"/>
<ellipse cx="487.3" cy="227.0" rx="3.6" ry="6.4" fill="#000"/>
<ellipse cx="402.4" cy="246.4" rx="3.6" ry="6.4" fill="#000"/>
<ellipse cx="419.6" cy="246.4" rx="3.6" ry="6.4" fill="#000"/>
<ellipse cx="435.1" cy="246.4" rx="3.6" ry="6.4" fill="#000"/>
<ellipse cx="448.8" cy="246.4" rx="3.4" ry="6.1" fill="#d2d2d2" stroke="#7a7a7a" stroke-width="0.7"/>
<ellipse cx="463.6" cy="246.4" rx="3.4" ry="6.1" fill="#d2d2d2" stroke="#7a7a7a" stroke-width="0.7"/>
<ellipse cx="487.3" cy="246.4" rx="3.4" ry="6.1" fill="#d2d2d2" stroke="#7a7a7a" stroke-width="0.7"/>
<text x="404.4" y="194.4" font-size="11.00" font-weight="normal" text-anchor="middle" fill="#111" textLength="10.6" lengthAdjust="spacingAndGlyphs" stroke="#111" stroke-width="0.15">-450</text>
<text x="418.6" y="194.4" font-size="11.00" font-weight="normal" text-anchor="middle" fill="#111" textLength="10.6" lengthAdjust="spacingAndGlyphs" stroke="#111" stroke-width="0.15">-440</text>
<text x="433.6" y="194.4" font-size="11.00" font-weight="normal" text-anchor="middle" fill="#111" textLength="10.6" lengthAdjust="spacingAndGlyphs" stroke="#111" stroke-width="0.15">-416</text>
<text x="448.1" y="194.4" font-size="11.00" font-weight="normal" text-anchor="middle" fill="#111" textLength="10.6" lengthAdjust="spacingAndGlyphs" stroke="#111" stroke-width="0.15">-370</text>
<text x="462.5" y="194.4" font-size="11.00" font-weight="normal" text-anchor="middle" fill="#111" textLength="10.6" lengthAdjust="spacingAndGlyphs" stroke="#111" stroke-width="0.15">-307</text>
<text x="487.6" y="194.4" font-size="11.00" font-weight="normal" text-anchor="middle" fill="#111" textLength="10.6" lengthAdjust="spacingAndGlyphs" stroke="#111" stroke-width="0.15">-192</text>
<rect x="472.4" y="189.0" width="7.2" height="69.5" rx="3.2" fill="#4472c4"/>
<rect x="494.3" y="190.8" width="12.9" height="69.6" rx="3.2" fill="#6aaa3e"/>
<rect x="512.4" y="191.3" width="7.3" height="69.1" rx="3.2" fill="#7030a0"/>
<path d="M534.8,204.0 L540.6,207.2 L534.8,210.4 Z" fill="#000"/>
<path d="M534.8,223.1 L540.6,226.3 L534.8,229.5 Z" fill="#000"/>
<path d="M534.8,242.5 L540.6,245.7 L534.8,248.9 Z" fill="#000"/>
<path d="M519.7,196.4 H521.2 V261.4" fill="none" stroke="#222" stroke-width="1.0"/>
<rect x="520.7" y="260.4" width="21" height="2" fill="#000"/>
<path d="M541,255.3 L547.3,261.5 L541,268.0 Z" fill="#000"/>
<text x="475.7" y="272.6" font-size="11.40" font-weight="normal" text-anchor="middle" fill="#4472c4" textLength="6.0" lengthAdjust="spacingAndGlyphs" stroke="#4472c4" stroke-width="0.3">W</text>
<text x="499.8" y="272.6" font-size="11.40" font-weight="normal" text-anchor="middle" fill="#6aaa3e" textLength="4.4" lengthAdjust="spacingAndGlyphs" stroke="#6aaa3e" stroke-width="0.3">X</text>
<text x="515.6" y="272.6" font-size="11.40" font-weight="normal" text-anchor="middle" fill="#7030a0" textLength="4.4" lengthAdjust="spacingAndGlyphs" stroke="#7030a0" stroke-width="0.3">Y</text>
</svg></body></html>
